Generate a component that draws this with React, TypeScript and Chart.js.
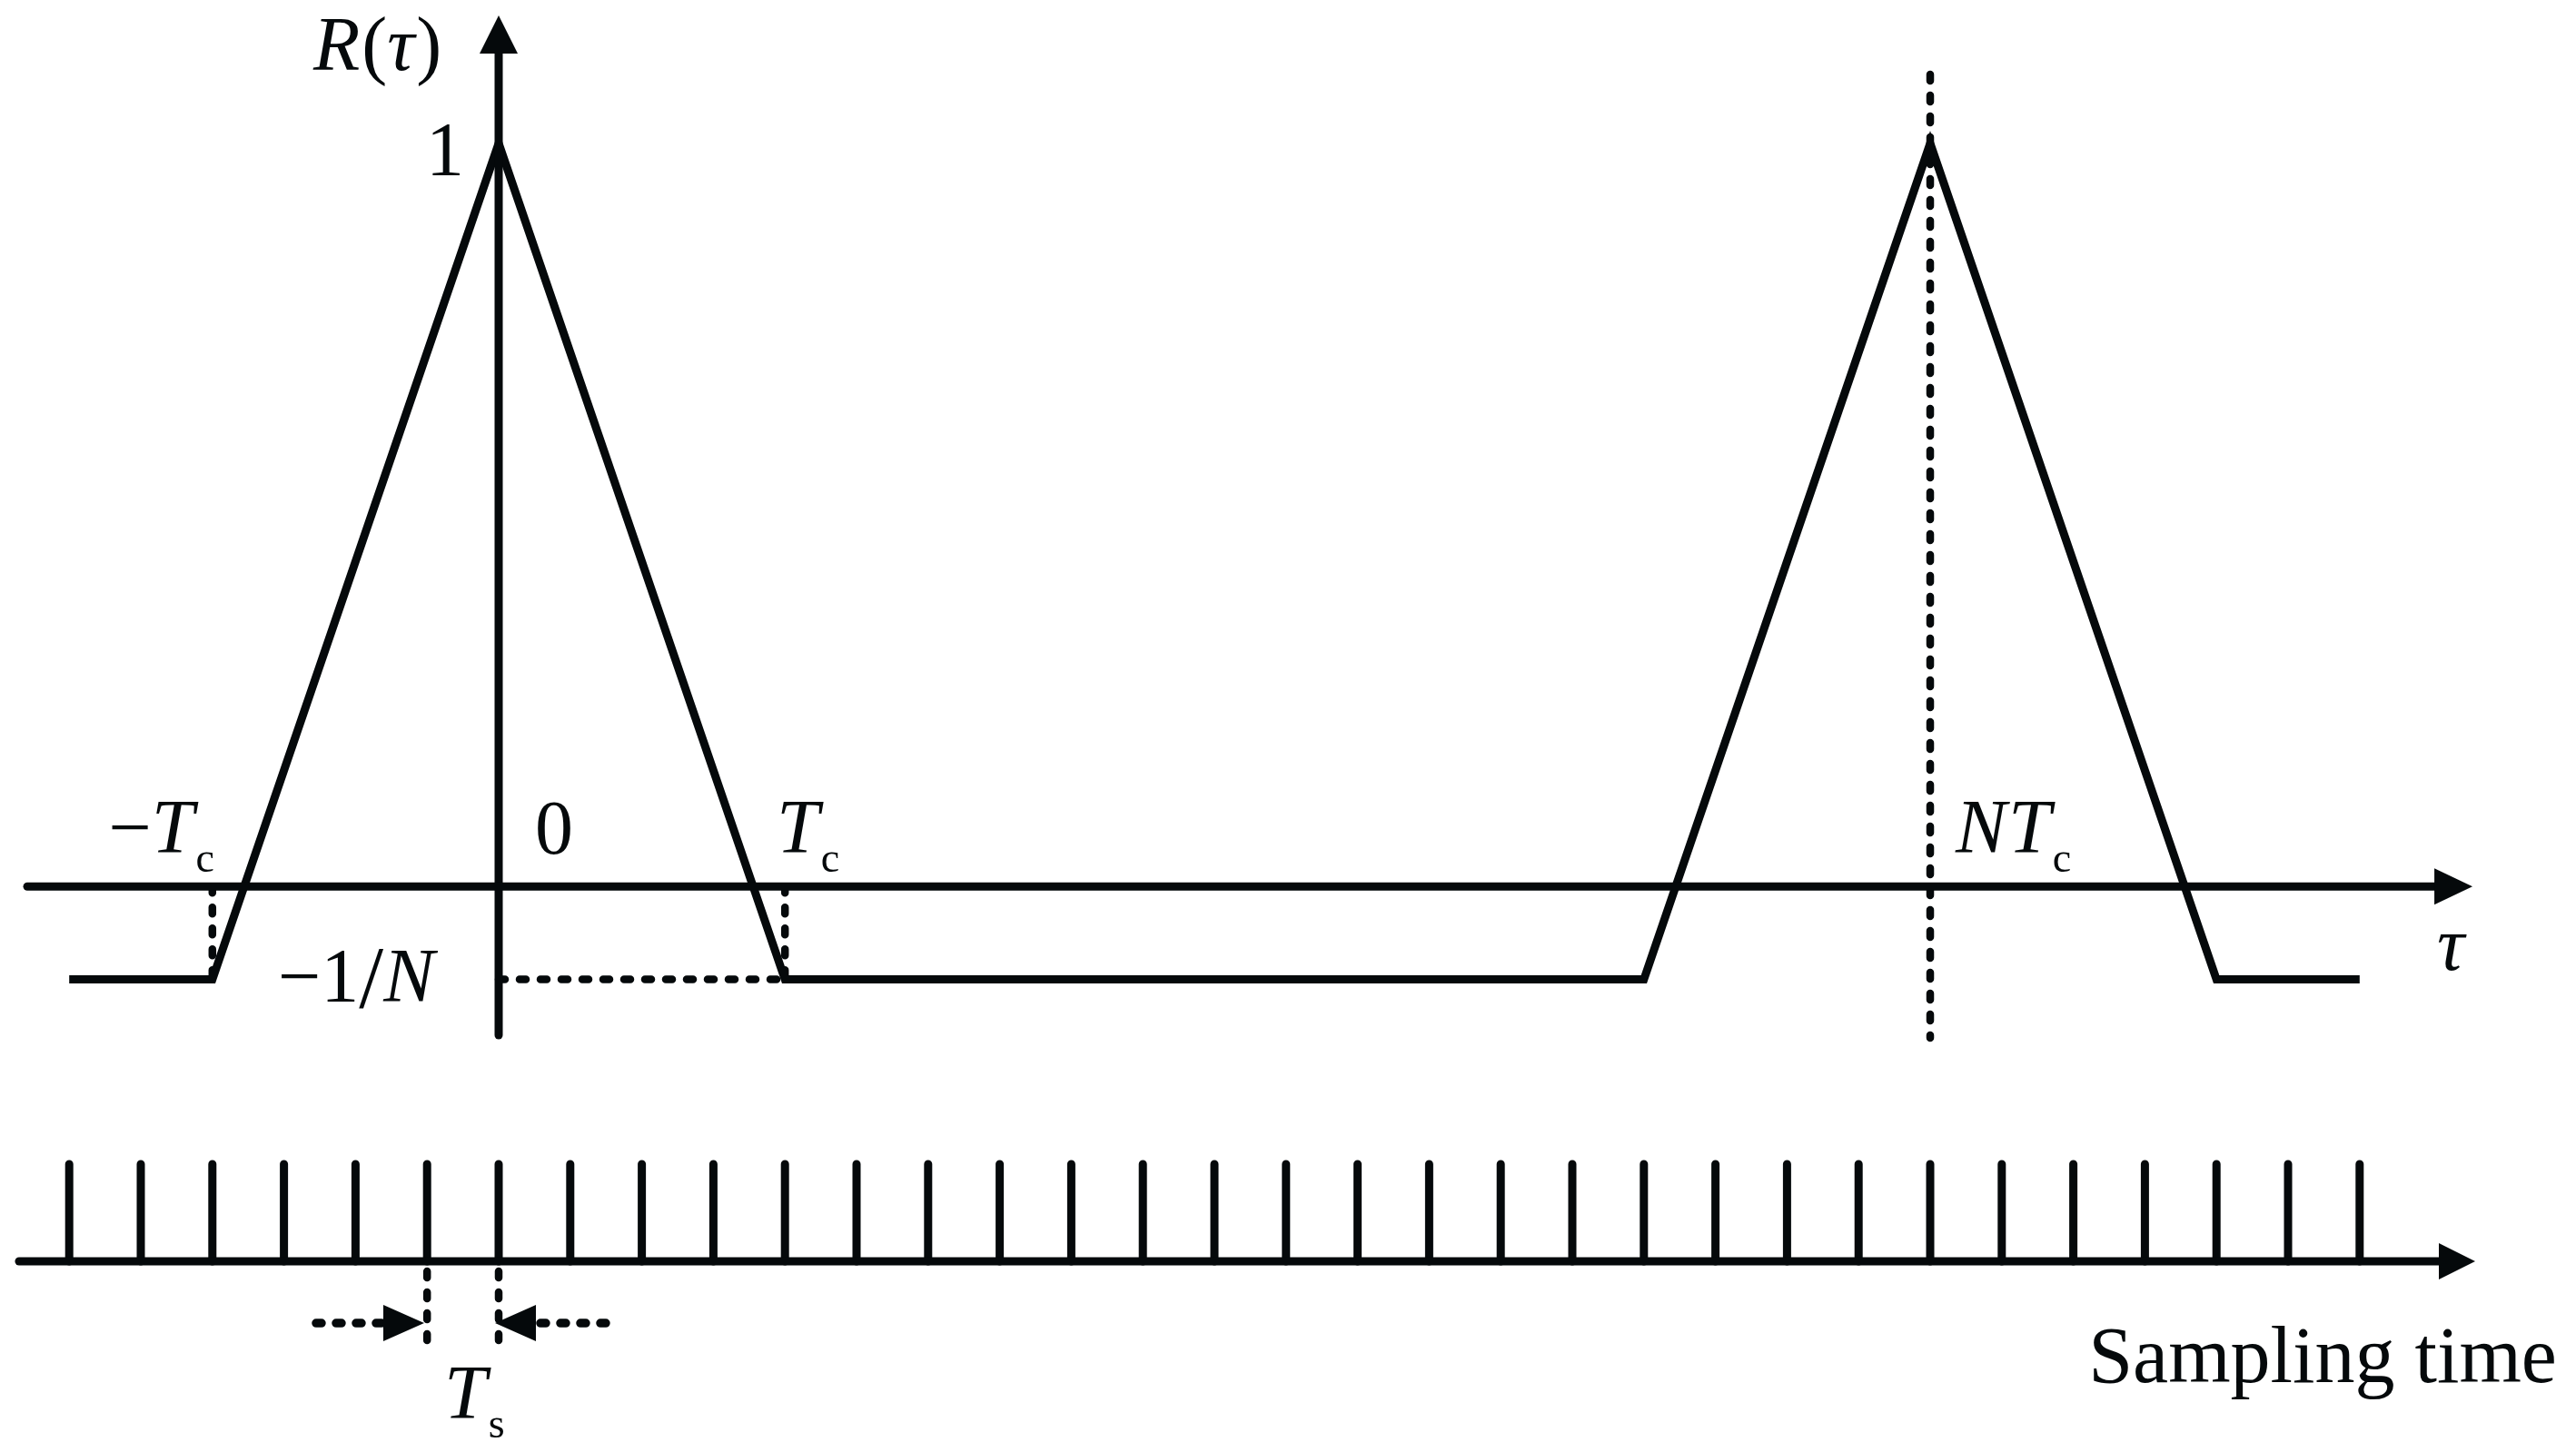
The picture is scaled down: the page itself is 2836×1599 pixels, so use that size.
import { useEffect, useRef } from 'react';
import { Chart, registerables } from 'chart.js';

Chart.register(...registerables);

const W = 2836;
const H = 1599;
const INK = '#05090b';
const FONT = '"Liberation Serif", "Times New Roman", serif';

// ---- data (x in units of the sampling period Ts, y in units of R(τ)) ----
const sampleTicks = [
  -6, -5, -4, -3, -2, -1, 0, 1, 2, 3, 4, 5, 6, 7, 8, 9, 10,
  11, 12, 13, 14, 15, 16, 17, 18, 19, 20, 21, 22, 23, 24, 25, 26,
];
const corrTau = [-6, -4, 0, 4, 16, 20, 24, 26];
const corrR = [-0.125, -0.125, 1, -0.125, -0.125, 1, -0.125, -0.125];

const tauAxisX = [-6.586, 27.069];
const tauAxisY = [0, 0];
const rAxisX = [0, 0];
const rAxisY = [-0.2, 1.1234];
const sampAxisX = [-6.701, 27.132];
const sampAxisY = [-0.5043, -0.5043];
const tickBase = -0.5043;
const tickTop = -0.3736;

const guideX = [
  [-4, -4],
  [4, 4],
  [0, 4],
  [20, 20],
  [-1, -1],
  [0, 0],
];
const guideY = [
  [0, -0.125],
  [0, -0.125],
  [-0.125, -0.125],
  [1.0929, -0.2037],
  [-0.5178, -0.6278],
  [-0.5178, -0.6278],
];
const tsArrowX = [
  [-2.551, -1.586],
  [1.497, 0.495],
];
const tsArrowY = [
  [-0.5875, -0.5875],
  [-0.5875, -0.5875],
];

type Part = { t: string; i?: boolean; sub?: boolean; big?: boolean };
type Label = { x: number; y: number; align: 'left' | 'center' | 'right'; parts: Part[]; size?: number };

const labels: Label[] = [
  { x: -2.589, y: 1.099, align: 'left', parts: [{ t: 'R', i: true }, { t: '(' }, { t: 'τ', i: true }, { t: ')' }] },
  { x: -0.749, y: 0.957, align: 'center', parts: [{ t: '1' }] },
  { x: 0.774, y: 0.0444, align: 'center', parts: [{ t: '0' }] },
  { x: -3.972, y: 0.0456, align: 'right', parts: [{ t: '−' }, { t: 'T', i: true }, { t: 'c', sub: true }] },
  { x: 3.883, y: 0.0456, align: 'left', parts: [{ t: 'T', i: true }, { t: 'c', sub: true }] },
  { x: 20.355, y: 0.0456, align: 'left', parts: [{ t: 'N', i: true }, { t: 'T', i: true }, { t: 'c', sub: true }] },
  { x: -3.084, y: -0.1549, align: 'left', parts: [{ t: '−1' }, { t: '/', big: true }, { t: 'N', i: true }] },
  { x: 27.08, y: -0.1121, align: 'left', parts: [{ t: 'τ', i: true }] },
  { x: -0.761, y: -0.7156, align: 'left', parts: [{ t: 'T', i: true }, { t: 's', sub: true }] },
  { x: 22.21, y: -0.6668, align: 'left', size: 88, parts: [{ t: 'Sampling time' }] },
];

const seg = (xs: number[], ys: number[], extra: any = {}) => ({
  data: xs.map((x, k) => ({ x, y: ys[k] })),
  showLine: true,
  borderColor: INK,
  backgroundColor: INK,
  borderWidth: 9,
  pointRadius: 0,
  pointHoverRadius: 0,
  borderCapStyle: 'round',
  borderJoinStyle: 'miter',
  tension: 0,
  fill: false,
  ...extra,
});

const DASH = [7, 16];

function buildDatasets() {
  const ds: any[] = [];
  ds.push(seg(tauAxisX, tauAxisY, { arrow: true, arrowLen: 40, arrowHalf: 20 }));
  ds.push(seg(rAxisX, rAxisY, { arrow: true, arrowLen: 40, arrowHalf: 21 }));
  ds.push(seg(sampAxisX, sampAxisY, { arrow: true, arrowLen: 38, arrowHalf: 20 }));
  sampleTicks.forEach((t) => ds.push(seg([t, t], [tickBase, tickTop])));
  ds.push(seg(corrTau, corrR, { borderCapStyle: 'butt' }));
  guideX.forEach((xs, k) => ds.push(seg(xs, guideY[k], { borderDash: DASH, borderWidth: 8.5 })));
  tsArrowX.forEach((xs, k) =>
    ds.push(seg(xs, tsArrowY[k], { borderDash: [6, 16], borderWidth: 9.5, arrow: true, arrowLen: 43, arrowHalf: 20 }))
  );
  return ds;
}

function fontFor(p: Part, size: number) {
  if (p.sub) return `${p.i ? 'italic ' : ''}46px ${FONT}`;
  const s = p.big ? size * 1.15 : size;
  return `${p.i ? 'italic ' : ''}${s}px ${FONT}`;
}

const overlay = {
  id: 'overlay',
  afterDatasetsDraw(chart: any) {
    const ctx: CanvasRenderingContext2D = chart.ctx;
    chart.data.datasets.forEach((ds: any, i: number) => {
      if (!ds.arrow) return;
      const pts = chart.getDatasetMeta(i).data;
      const a = pts[pts.length - 2];
      const b = pts[pts.length - 1];
      const ang = Math.atan2(b.y - a.y, b.x - a.x);
      ctx.save();
      ctx.translate(b.x, b.y);
      ctx.rotate(ang);
      ctx.beginPath();
      ctx.moveTo(ds.arrowLen, 0);
      ctx.lineTo(-2, -ds.arrowHalf);
      ctx.lineTo(-2, ds.arrowHalf);
      ctx.closePath();
      ctx.fillStyle = INK;
      ctx.fill();
      ctx.restore();
    });

    const xs = chart.scales.x;
    const ys = chart.scales.y;
    ctx.save();
    ctx.fillStyle = INK;
    ctx.textBaseline = 'alphabetic';
    ctx.textAlign = 'left';
    labels.forEach((lb) => {
      const size = lb.size ?? 84;
      const widths = lb.parts.map((p) => {
        ctx.font = fontFor(p, size);
        return ctx.measureText(p.t).width + (p.i && !p.sub ? 2 : 0);
      });
      const total = widths.reduce((s, w) => s + w, 0);
      let px = xs.getPixelForValue(lb.x);
      const py = ys.getPixelForValue(lb.y);
      if (lb.align === 'center') px -= total / 2;
      if (lb.align === 'right') px -= total;
      lb.parts.forEach((p, k) => {
        ctx.font = fontFor(p, size);
        ctx.fillText(p.t, px, py + (p.sub ? 21 : 0) + (p.big ? 6 : 0));
        px += widths[k];
      });
    });
    ctx.restore();
  },
};

export default function App() {
  const ref = useRef<HTMLCanvasElement>(null);
  useEffect(() => {
    document.body.style.margin = '0';
    const chart = new Chart(ref.current as HTMLCanvasElement, {
      type: 'scatter',
      data: { datasets: buildDatasets() },
      options: {
        animation: false,
        responsive: false,
        events: [],
        layout: { padding: 0 },
        plugins: { legend: { display: false }, tooltip: { enabled: false } },
        scales: {
          x: { type: 'linear', min: -549 / 78.8, max: (W - 549) / 78.8, display: false },
          y: { type: 'linear', min: (976.3 - H) / 818.3, max: 976.3 / 818.3, display: false },
        },
      },
      plugins: [overlay],
    } as any);
    return () => chart.destroy();
  }, []);
  return (
    <div style={{ position: 'fixed', left: 0, top: 0, width: W, height: H, background: '#fff' }}>
      <canvas ref={ref} width={W} height={H} style={{ width: W, height: H, display: 'block' }} />
    </div>
  );
}
